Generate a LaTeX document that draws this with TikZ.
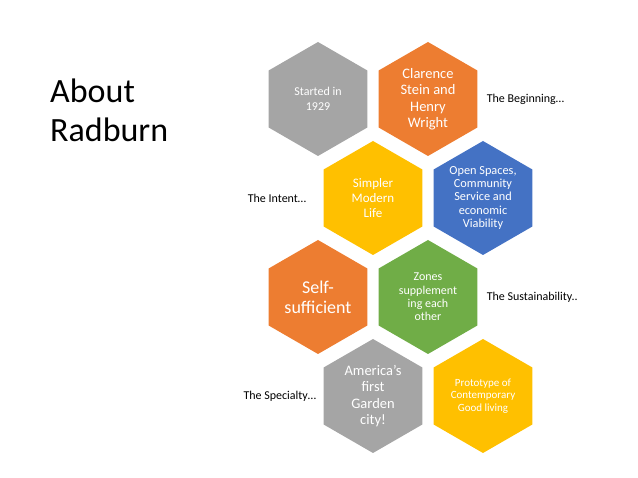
\documentclass[tikz,border=0pt]{standalone}
\usepackage{fontspec}
\setmainfont{Carlito}
\usepackage{tikz}
\usetikzlibrary{positioning, shapes.geometric}

\definecolor{hexgray}{HTML}{A5A5A5}
\definecolor{hexorange}{HTML}{ED7D31}
\definecolor{hexyellow}{HTML}{FFC000}
\definecolor{hexblue}{HTML}{4472C4}
\definecolor{hexgreen}{HTML}{70AD47}

\begin{document}
\begin{tikzpicture}[x=1pt, y=-1pt, node distance=8pt,
                    hexa/.style={regular polygon, regular polygon sides=6, shape border rotate=30,
                                 minimum size=114pt, inner sep=0pt, fill=#1, draw=none,
                                 text=white, align=center},
                    side/.style={font=\fontsize{12}{14}\selectfont, text=black, inner sep=0pt}]

  \useasboundingbox (0,0) rectangle (638,478);

  \node[anchor=base west, inner sep=0pt, align=left, font=\fontsize{34}{39}\selectfont] (title) at (50,142) {About\\Radburn};

  % row 1
  \node[hexa=hexgray, font=\fontsize{12}{14.8}\selectfont]     (started)   at (318,99)  {Started in\\1929};
  \node[hexa=hexorange, font=\fontsize{14.5}{16.5}\selectfont] (clarence)  at (428,99)  {Clarence\\Stein and\\Henry\\Wright};
  % row 2
  \node[hexa=hexyellow, font=\fontsize{13}{15.2}\selectfont]   (simpler)   at (373,198) {Simpler\\Modern\\Life};
  \node[hexa=hexblue, font=\fontsize{12.3}{13.4}\selectfont]   (openspace) at (483,198) {Open Spaces,\\Community\\Service and\\economic\\Viability};
  % row 3
  \node[hexa=hexorange, font=\fontsize{18}{20}\selectfont]     (selfsuff)  at (318,297) {Self-\\sufficient};
  \node[hexa=hexgreen, font=\fontsize{12}{13.4}\selectfont]    (zones)     at (428,297) {Zones\\supplement\\ing each\\other};
  % row 4
  \node[hexa=hexgray, font=\fontsize{14.5}{16.4}\selectfont]   (america)   at (373,396) {America’s\\first\\Garden\\city!};
  \node[hexa=hexyellow, font=\fontsize{11}{12.5}\selectfont]   (prototype) at (483,396) {Prototype of\\Contemporary\\Good living};

  % side labels
  \node[side, right=9pt of clarence] (beginning) {The Beginning…};
  \node[side, left=17pt of simpler]  (intent)    {The Intent…};
  \node[side, right=9pt of zones]    (sustain)   {The Sustainability..};
  \node[side, left=7pt of america]   (special)   {The Specialty…};

\end{tikzpicture}
\end{document}
